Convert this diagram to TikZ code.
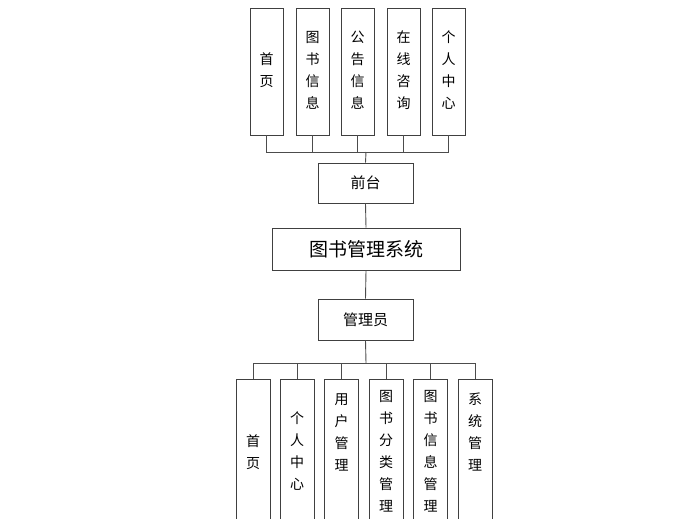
\documentclass[tikz,border=0pt]{standalone}
\usepackage{fontspec}
\setmainfont{Noto Sans CJK SC}
\begin{document}
\begin{tikzpicture}[x=1pt,y=-1pt,
  box/.style={draw=black!75,line width=0.9pt,fill=white,minimum width=33pt,align=center,inner sep=0pt},
  vt/.style={font=\fontsize{14}{22}\selectfont,align=center},
  ln/.style={draw=black!70,line width=0.9pt}]
\useasboundingbox (0,0) rectangle (693,519);
% top group
\foreach \n/\x/\t in {a/266.5/首\\页, b/312.5/图\\书\\信\\息, c/357.5/公\\告\\信\\息, d/403.5/在\\线\\咨\\询, e/448.5/个\\人\\中\\心}{
  \node[box,minimum height=127pt] (\n) at (\x,71.5) {};
  \node[vt] at (\x,70) {\t};
}
\node[box,minimum width=95pt,minimum height=40pt,font=\fontsize{15}{18}\selectfont] (qt) at (365.5,183) {前台};
\node[box,minimum width=188pt,minimum height=42pt,font=\fontsize{19}{22}\selectfont] (main) at (366,249) {图书管理系统};
\node[box,minimum width=95pt,minimum height=41pt,font=\fontsize{15}{18}\selectfont] (gl) at (365.5,319.5) {管理员};
\coordinate (tb) at (366,152);
\foreach \n in {a,b,c,d,e} \draw[ln] (\n.south) |- (tb);
\draw[ln] (a.south |- tb) -- (e.south |- tb);
\draw[ln] (tb) -- (qt.north);
\draw[ln] (qt.south) -- (main.north);
\draw[ln] (main.south) -- (gl.north);
% bottom group
\foreach \n/\x/\t in {p/253/首\\页, q/297/个\\人\\中\\心, r/341.5/用\\户\\管\\理, s/386/图\\书\\分\\类\\管\\理, t/430.5/图\\书\\信\\息\\管\\理, u/475/系\\统\\管\\理}{
  \node[box,minimum width=34pt,minimum height=150pt,anchor=north] (\n) at (\x,379) {};
}
\node[vt] at (253,452) {首\\页};
\node[vt] at (297,451) {个\\人\\中\\心};
\node[vt] at (341.5,432) {用\\户\\管\\理};
\node[vt] at (386,451) {图\\书\\分\\类\\管\\理};
\node[vt] at (430.5,451) {图\\书\\信\\息\\管\\理};
\node[vt] at (475,432) {系\\统\\管\\理};
\coordinate (bb) at (366,363);
\draw[ln] (gl.south) -- (bb);
\draw[ln] (p.north |- bb) -- (u.north |- bb);
\foreach \n in {p,q,r,s,t,u} \draw[ln] (\n.north |- bb) -- (\n.north);
\end{tikzpicture}
\end{document}
